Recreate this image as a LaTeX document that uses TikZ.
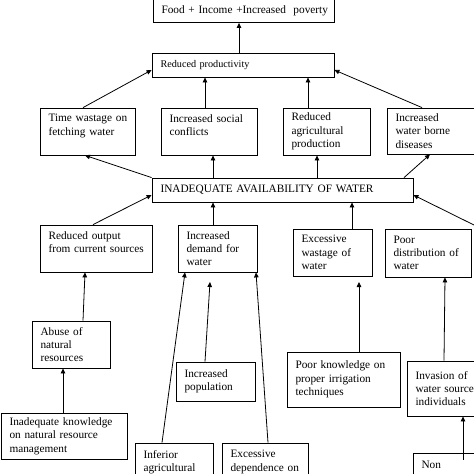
\documentclass[tikz,border=0pt]{standalone}
\usepackage{fontspec}
\setmainfont{Liberation Serif}
\usetikzlibrary{arrows.meta,calc}
\begin{document}
\begin{tikzpicture}[x=1pt,y=-1pt,
  box/.style={draw=black, line width=0.8pt, inner xsep=8.5pt, inner ysep=1pt,
    align=left, anchor=center, font=\fontsize{11.3}{13.3}\selectfont},
  arr/.style={line width=0.8pt, -{Triangle[length=5pt,width=4.5pt]}}]
\useasboundingbox (0,0) rectangle (474,474);
\fill[white] (0,0) rectangle (474,474);
\clip (0,0) rectangle (474,474);

\node[box, text width=164pt, minimum height=23.5pt] (top) at (243.5,10.75) {\mbox{Food + Income +Increased\ \ poverty}};
\node[box, text width=165pt, minimum height=24pt, font=\fontsize{10.2}{12}\selectfont] (prod) at (243,65) {\mbox{Reduced productivity}};

\node[box, text width=78pt, minimum height=47pt] (time) at (87.5,131.5) {\mbox{Time wastage on}\\\mbox{fetching water}\\\mbox{}};
\node[box, text width=79pt, minimum height=47pt] (social) at (209,131.5) {\mbox{Increased social}\\conflicts\\\mbox{}};
\node[box, text width=70pt, minimum height=47pt] (agri) at (326.5,131.5) {Reduced\\agricultural\\production};
\node[box, text width=76pt, minimum height=46pt] (borne) at (433.5,131) {Increased\\\mbox{water borne}\\diseases};

\node[box, text width=244pt, minimum height=24pt] (inad) at (282.5,190) {\mbox{INADEQUATE AVAILABILITY OF WATER}};

\node[box, text width=95pt, minimum height=47pt] (output) at (96,248.5) {\mbox{Reduced output}\\\mbox{from current sources}\\\mbox{}};
\node[box, text width=62pt, minimum height=47pt] (demand) at (217.5,248.5) {Increased\\\mbox{demand for}\\water};
\node[box, text width=62pt, minimum height=47pt] (wastage) at (332.5,252.5) {Excessive\\\mbox{wastage of}\\water};
\node[box, text width=69pt, minimum height=48pt] (distrib) at (428,253) {Poor\\\mbox{distribution of}\\water};

\node[box, text width=61pt, minimum height=47pt] (abuse) at (71,344.5) {\mbox{Abuse of}\\natural\\resources};
\node[box, text width=62pt, minimum height=39pt] (pop) at (215.5,381.5) {Increased\\population};
\node[box, text width=96pt, minimum height=55pt] (irrig) at (343.5,379.5) {\mbox{Poor knowledge on}\\\mbox{proper irrigation}\\techniques};
\node[box, text width=86pt, minimum height=55pt] (inv) at (458.5,388.5) {\mbox{Invasion of}\\\mbox{water sources by}\\individuals};

\node[box, text width=109pt, minimum height=46pt] (inadk) at (64,436) {\mbox{Inadequate knowledge}\\\mbox{on natural resource}\\management};
\node[box, text width=61pt, minimum height=38pt] (inferior) at (174,462) {Inferior\\agricultural};
\node[box, text width=69pt, minimum height=38pt] (dep) at (265,462) {Excessive\\\mbox{dependence on}};
\node[box, text width=83pt, minimum height=24pt] (non) at (463,465) {Non};

\coordinate (offr) at (478,227);
\coordinate (popend) at (210,282);
\coordinate (irrend) at (359,282);

% top levels
\draw[arr] (239,0 |- prod.north) -- (239,0 |- top.south);
\draw[arr] (83,0 |- time.north) -- (prod.west |- 0,70);
\draw[arr] (205,0 |- social.north) -- (205,0 |- prod.south);
\draw[arr] (308,0 |- agri.north) -- (308,0 |- prod.south);
\draw[arr] (422,0 |- borne.north) -- (prod.east |- 0,70);

% from inadequate
\draw[arr] (inad.north west) -- (85,0 |- time.south);
\draw[arr] (213,0 |- inad.north) -- (213,0 |- social.south);
\draw[arr] (317,0 |- inad.north) -- (317,0 |- agri.south);
\draw[arr] (404,0 |- inad.north) -- (430,0 |- borne.south);

% into inadequate
\draw[arr] (93,0 |- output.north) -- (inad.west |- 0,195);
\draw[arr] (213,0 |- demand.north) -- (213,0 |- inad.south);
\draw[arr] (352,0 |- wastage.north) -- (352,0 |- inad.south);
\draw[arr] (offr) -- (inad.east |- 0,195);

% lower
\draw[arr] (83,0 |- abuse.north) -- (85,0 |- output.south);
\draw[arr] (162,0 |- inferior.north) -- (185,0 |- demand.south);
\draw[arr] (205,0 |- pop.north) -- (popend);
\draw[arr] (268,0 |- dep.north) -- (256,0 |- demand.south);
\draw[arr] (359,0 |- irrig.north) -- (irrend);
\draw[arr] (444,0 |- inv.north) -- (445,0 |- distrib.south);
\draw[arr] (63,0 |- inadk.north) -- (63,0 |- abuse.south);
\draw[arr] ($(463,0 |- non.north)+(0,7)$) -- (463,0 |- inv.south);
\end{tikzpicture}
\end{document}
